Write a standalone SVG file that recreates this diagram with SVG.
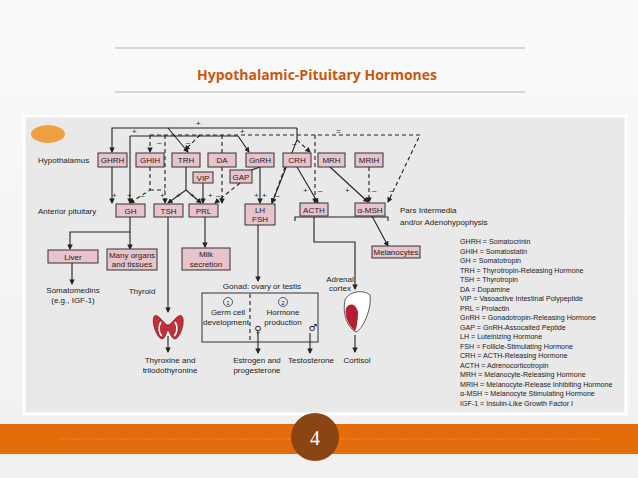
<svg xmlns="http://www.w3.org/2000/svg" width="638" height="478" viewBox="0 0 638 478">
<defs>
<marker id="a" viewBox="0 0 6 6" refX="5" refY="3" markerWidth="5" markerHeight="5" orient="auto"><path d="M0,0L6,3L0,6z" fill="#222"/></marker>
<linearGradient id="bg" x1="0" y1="0" x2="0" y2="1"><stop offset="0" stop-color="#fafafa"/><stop offset="1" stop-color="#f0f0f0"/></linearGradient>
</defs>
<style>
text{font-family:"Liberation Sans",Arial,sans-serif;font-size:8px;fill:#222}
.b rect{fill:#e9c3cb;stroke:#333;stroke-width:1}
.b text{text-anchor:middle}
.c path{fill:none;stroke:#222;stroke-width:1.1}
.c .d{stroke-dasharray:4,3}
.c .m{marker-end:url(#a)}
.s{font-size:8px}
.lg text{font-size:7.1px}
.sym{font-family:"DejaVu Sans",sans-serif;font-size:10px}
</style>
<rect width="638" height="478" fill="url(#bg)"/>
<line x1="115" y1="48" x2="525" y2="48" stroke="#999" stroke-width="0.7"/>
<line x1="115" y1="92" x2="525" y2="92" stroke="#999" stroke-width="0.7"/>
<text x="317" y="80" text-anchor="middle" style="font-size:14px;font-weight:bold;fill:#c55a11;font-family:'Open Sans','Liberation Sans',sans-serif">Hypothalamic-Pituitary Hormones</text>
<rect x="24" y="116" width="602" height="298" fill="#e9e9e9" stroke="#fff" stroke-width="3"/>
<ellipse cx="48" cy="134" rx="17" ry="9" fill="#f0a040"/>
<rect x="0" y="424" width="638" height="30" fill="#e46c0a"/>
<line x1="60" y1="439" x2="290" y2="439" stroke="#f5a060" stroke-dasharray="2,1" stroke-width="0.6"/>
<line x1="340" y1="439" x2="600" y2="439" stroke="#f5a060" stroke-dasharray="2,1" stroke-width="0.6"/>
<circle cx="315" cy="437" r="24" fill="#8b4513"/>
<text x="315" y="445" text-anchor="middle" style="font-size:20px;fill:#fff;font-family:'Liberation Serif',serif">4</text>

<text x="38" y="163">Hypothalamus</text>
<text x="38" y="214">Anterior pituitary</text>
<text x="400" y="213">Pars Intermedia</text>
<text x="400" y="225">and/or Adenohypophysis</text>

<g id="connectors" class="c">
<path d="M297,128H112V152" class="m"/>
<path d="M297,128V140L272,203" class="m"/>
<path d="M130,136H238L249,152" class="m"/>
<path d="M130,136V203" class="m"/>
<path d="M112,167V203" class="m"/>
<path d="M168,128L188,152" class="m"/>
<path d="M186,167V190L168,203" class="m"/>
<path d="M186,190L201,203" class="m"/>
<path d="M203,183V203" class="m"/>
<path d="M260,167V203" class="m"/>
<path d="M260,167L240,174"/>
<path d="M150,135H420L388,202" class="d m"/>
<path d="M150,135V152" class="d m"/>
<path d="M165,135V203" class="d m"/>
<path d="M222,135V153" class="d"/>
<path d="M222,167V203" class="d m"/>
<path d="M150,167V190L130,203" class="d m"/>
<path d="M150,190H165" class="d"/>
<path d="M200,135L185,150" class="d m"/>
<path d="M240,183L215,203" class="d m"/>
<path d="M285,167L272,203" class="d m"/>
<path d="M315,135V203" class="d m"/>
<path d="M297,140L310,152" class="d m"/>
<path d="M369,167V202" class="d m"/>
<path d="M297,167L318,203" class="m"/>
<path d="M330,167L368,202" class="m"/>
<path d="M295,221V217H388V221"/>
<path d="M372,216L388,246" class="m"/>
<path d="M314,217V242H355V289" class="m"/>
<path d="M130,217V232H70V249" class="m"/>
<path d="M130,232V249" class="m"/>
<path d="M72,263V284" class="m"/>
<path d="M168,217V312" class="m"/>
<path d="M205,217V247" class="m"/>
<path d="M258,225V281" class="m"/>
<path d="M168,336V352" class="m"/>
<path d="M258,333V353" class="m"/>
<path d="M310,333V353" class="m"/>
<path d="M355,335V352" class="m"/>
<path d="M250,294V342" class="d"/>
</g>
<g class="s">
<text x="196" y="126">+</text><text x="132" y="134">+</text><text x="240" y="134">+</text>
<text x="157" y="145">–</text><text x="186" y="145">–</text><text x="292" y="146">–</text><text x="336" y="134">=</text>
<text x="112" y="198">+</text><text x="127" y="198">+</text><text x="140" y="198">–</text><text x="160" y="198">+</text>
<text x="176" y="198">+</text><text x="190" y="198">+</text><text x="208" y="198">+</text><text x="216" y="198">–</text>
<text x="254" y="198">+</text><text x="262" y="198">+</text><text x="275" y="198">–</text>
<text x="303" y="193">+</text><text x="318" y="193">–</text><text x="345" y="193">+</text><text x="372" y="193">–</text><text x="389" y="193">–</text>
</g>

<g id="GHRH" class="b"><rect x="98" y="153" width="29" height="14"/><text x="112.5" y="163">GHRH</text></g>
<g id="GHIH" class="b"><rect x="136" y="153" width="28" height="14"/><text x="150" y="163">GHIH</text></g>
<g id="TRH" class="b"><rect x="172" y="153" width="28" height="14"/><text x="186" y="163">TRH</text></g>
<g id="DA" class="b"><rect x="208" y="153" width="28" height="14"/><text x="222" y="163">DA</text></g>
<g id="GnRH" class="b"><rect x="246" y="153" width="28" height="14"/><text x="260" y="163">GnRH</text></g>
<g id="CRH" class="b"><rect x="283" y="153" width="28" height="14"/><text x="297" y="163">CRH</text></g>
<g id="MRH" class="b"><rect x="318" y="153" width="27" height="14"/><text x="331.5" y="163">MRH</text></g>
<g id="MRIH" class="b"><rect x="355" y="153" width="28" height="14"/><text x="369" y="163">MRIH</text></g>
<g id="VIP" class="b"><rect x="193" y="172" width="20" height="11"/><text x="203" y="181">VIP</text></g>
<g id="GAP" class="b"><rect x="230" y="170" width="22" height="13"/><text x="241" y="180">GAP</text></g>
<g id="GH" class="b"><rect x="116" y="204" width="29" height="13"/><text x="130.5" y="214">GH</text></g>
<g id="TSH" class="b"><rect x="154" y="204" width="29" height="13"/><text x="168.5" y="214">TSH</text></g>
<g id="PRL" class="b"><rect x="189" y="204" width="29" height="13"/><text x="203.5" y="214">PRL</text></g>
<g id="LHFSH" class="b"><rect x="245" y="204" width="30" height="21"/><text x="260" y="213">LH</text><text x="260" y="222">FSH</text></g>
<g id="ACTH" class="b"><rect x="300" y="203" width="28" height="13"/><text x="314" y="213">ACTH</text></g>
<g id="MSH" class="b"><rect x="355" y="203" width="30" height="13"/><text x="370" y="213">α-MSH</text></g>
<g id="Liver" class="b"><rect x="48" y="250" width="50" height="13"/><text x="73" y="260">Liver</text></g>
<g id="Organs" class="b"><rect x="107" y="249" width="50" height="21"/><text x="132" y="258">Many organs</text><text x="132" y="267">and tissues</text></g>
<g id="Milk" class="b"><rect x="182" y="248" width="48" height="22"/><text x="206" y="257">Milk</text><text x="206" y="267">secretion</text></g>
<g id="Melanocytes" class="b"><rect x="372" y="246" width="48" height="12"/><text x="396" y="255">Melanocytes</text></g>

<g id="labels">
<text x="73" y="293" text-anchor="middle">Somatomedins</text>
<text x="73" y="303" text-anchor="middle">(e.g., IGF-1)</text>
<text x="142" y="294" text-anchor="middle">Thyroid</text>
<text x="170" y="363" text-anchor="middle">Thyroxine and</text>
<text x="170" y="373" text-anchor="middle">triiodothyronine</text>
<text x="262" y="289" text-anchor="middle">Gonad: ovary or testis</text>
<text x="340" y="282" text-anchor="middle">Adrenal</text>
<text x="340" y="291" text-anchor="middle">cortex</text>
<text x="257" y="363" text-anchor="middle">Estrogen and</text>
<text x="257" y="373" text-anchor="middle">progesterone</text>
<text x="311" y="363" text-anchor="middle">Testosterone</text>
<text x="357" y="363" text-anchor="middle">Cortisol</text>
</g>
<g id="Gonad">
<rect x="202" y="293" width="116" height="49" fill="none" stroke="#333"/>
<circle cx="228" cy="302" r="4.5" fill="none" stroke="#222" stroke-width="0.7"/><text x="228" y="305" text-anchor="middle" style="font-size:6px">1</text>
<circle cx="283" cy="302" r="4.5" fill="none" stroke="#222" stroke-width="0.7"/><text x="283" y="305" text-anchor="middle" style="font-size:6px">2</text>
<text x="228" y="315" text-anchor="middle">Germ cell</text>
<text x="226" y="325" text-anchor="middle">development</text>
<text x="283" y="315" text-anchor="middle">Hormone</text>
<text x="283" y="325" text-anchor="middle">production</text>
<text x="258" y="333" text-anchor="middle" class="sym">♀</text>
<text x="313" y="331" text-anchor="middle" class="sym">♂</text>
</g>
<g id="thyroid">
<path d="M160,318C150,308 152,330 160,338C165,342 166,332 168,330C170,332 172,342 177,338C185,330 186,308 176,318C172,322 170,325 168,325C166,325 164,322 160,318Z" fill="#c0303a" stroke="#5a0a10" stroke-width="0.6"/>
<path d="M161,322C158,326 159,334 162,336M175,322C178,326 177,334 174,336" stroke="#fff" fill="none" stroke-width="1.5"/>
</g>
<g id="adrenal">
<path d="M345,300C350,290 365,290 370,295C372,310 362,330 356,332C348,328 342,315 345,300Z" fill="#fff" stroke="#333" stroke-width="0.8"/>
<path d="M346,308C350,302 356,304 358,312C358,322 356,330 355,331C349,326 344,316 346,308Z" fill="#b02030"/>
</g>
<g class="lg">
<text x="460" y="244">GHRH = Somatocrinin</text>
<text x="460" y="253.5">GHIH = Somatostatin</text>
<text x="460" y="263">GH = Somatotropin</text>
<text x="460" y="272.5">TRH = Thyrotropin-Releasing Hormone</text>
<text x="460" y="282">TSH = Thyrotropin</text>
<text x="460" y="291.5">DA = Dopamine</text>
<text x="460" y="301">VIP = Vasoactive Intestinal Polypeptide</text>
<text x="460" y="310.5">PRL = Prolactin</text>
<text x="460" y="320">GnRH = Gonadotropin-Releasing Hormone</text>
<text x="460" y="329.5">GAP = GnRH-Assocaited Peptide</text>
<text x="460" y="339">LH = Luteinizing Hormone</text>
<text x="460" y="348.5">FSH = Follicle-Stimulating Hormone</text>
<text x="460" y="358">CRH = ACTH-Releasing Hormone</text>
<text x="460" y="367.5">ACTH = Adrenocorticotropin</text>
<text x="460" y="377">MRH = Melanocyte-Releasing Hormone</text>
<text x="460" y="386.5">MRIH = Melanocyte-Release Inhibiting Hormone</text>
<text x="460" y="396">α-MSH = Melanocyte Stimulating Hormone</text>
<text x="460" y="405.5">IGF-1 = Insulin-Like Growth Factor I</text>
</g>
</svg>
